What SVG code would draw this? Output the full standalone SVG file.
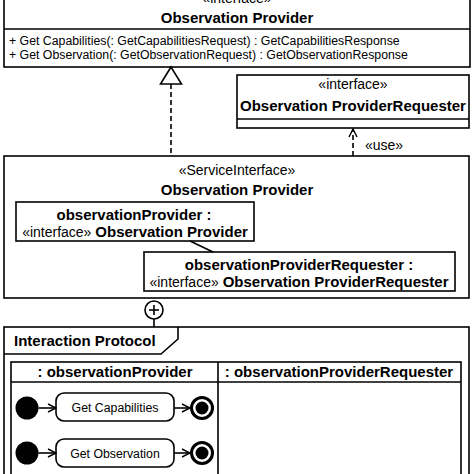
<svg xmlns="http://www.w3.org/2000/svg" width="474" height="474" viewBox="0 0 474 474">
<defs>
<style>
text{font-family:"Liberation Sans",Arial,sans-serif;fill:#000}
.b{font-weight:bold;font-size:15px}
.n{font-size:12.3px}
.s{font-size:14px}
.m{text-anchor:middle}
.box{fill:#fff;stroke:#000;stroke-width:1.6}
.ln{fill:none;stroke:#000;stroke-width:1.6}
.dash{fill:none;stroke:#000;stroke-width:1.6;stroke-dasharray:5,3}
</style>
<marker id="open" markerWidth="10" markerHeight="10" refX="9" refY="5" orient="auto" markerUnits="userSpaceOnUse">
<path d="M1,1 L9,5 L1,9" fill="none" stroke="#000" stroke-width="1.4"/>
</marker>
</defs>
<rect width="474" height="474" fill="#fff"/>

<g id="iface-provider">
<rect class="box" x="4" y="-10" width="466" height="77"/>
<line class="ln" x1="4" y1="29" x2="470" y2="29"/>
<text class="s m" x="237" y="3">«interface»</text>
<text class="b m" x="237" y="23">Observation Provider</text>
<text class="n" x="9" y="45">+ Get Capabilities(: GetCapabilitiesRequest) : GetCapabilitiesResponse</text>
<text class="n" x="9" y="59">+ Get Observation(: GetObservationRequest) : GetObservationResponse</text>
</g>

<g id="iface-requester">
<rect class="box" x="237" y="75" width="232" height="53"/>
<line class="ln" x1="237" y1="119" x2="469" y2="119"/>
<text class="s m" x="353" y="89">«interface»</text>
<text class="b m" x="353" y="111">Observation ProviderRequester</text>
</g>

<g id="service-interface">
<rect class="box" x="4" y="156" width="465" height="142"/>
<text class="s m" x="237" y="175">«ServiceInterface»</text>
<text class="b m" x="237" y="195">Observation Provider</text>
</g>

<g id="part-provider">
<rect class="box" x="16" y="202" width="238" height="39"/>
<text class="b m" x="134" y="220">observationProvider :</text>
<text class="m" x="135" y="237"><tspan class="s">«interface» </tspan><tspan class="b">Observation Provider</tspan></text>
</g>

<g id="part-requester">
<rect class="box" x="144" y="252" width="311" height="39"/>
<text class="b m" x="299" y="270">observationProviderRequester :</text>
<text class="m" x="299" y="287"><tspan class="s">«interface» </tspan><tspan class="b">Observation ProviderRequester</tspan></text>
</g>

<g id="interaction-protocol">
<rect class="box" x="4" y="327" width="465" height="160"/>
<path class="ln" d="M4,354 L161,354 L178,339 L178,327"/>
<text class="b" x="14" y="346">Interaction Protocol</text>
</g>

<g id="partitions">
<rect class="box" x="11" y="362" width="450" height="130"/>
<line class="ln" x1="11" y1="382" x2="461" y2="382"/>
<line class="ln" x1="218" y1="362" x2="218" y2="474"/>
<text class="b m" x="115" y="377">: observationProvider</text>
<text class="b m" x="339" y="377">: observationProviderRequester</text>
</g>

<g id="row1">
<circle cx="27" cy="408" r="11.5" fill="#000"/>
<rect class="box" x="56" y="393" width="118" height="28" rx="8"/>
<text class="n m" x="115" y="412">Get Capabilities</text>
<circle cx="202" cy="408" r="10.5" fill="#fff" stroke="#000" stroke-width="3"/>
<circle cx="202" cy="408" r="6.5" fill="#000"/>
</g>

<g id="row2">
<circle cx="27" cy="453" r="11.5" fill="#000"/>
<rect class="box" x="56" y="439" width="118" height="28" rx="8"/>
<text class="n m" x="115" y="458">Get Observation</text>
<circle cx="202" cy="453" r="10.5" fill="#fff" stroke="#000" stroke-width="3"/>
<circle cx="202" cy="453" r="6.5" fill="#000"/>
</g>

<g id="connectors">
<line class="dash" x1="171" y1="84" x2="171" y2="156"/>
<polygon points="171,67 160.5,84 181.5,84" fill="#fff" stroke="#000" stroke-width="1.6"/>
<line class="dash" x1="353" y1="156" x2="353" y2="129" marker-end="url(#open)"/>
<text class="s" x="365" y="150">«use»</text>
<line class="ln" x1="190" y1="241" x2="213" y2="252"/>
<circle cx="154" cy="310" r="9" fill="#fff" stroke="#000" stroke-width="1.6"/>
<line class="ln" x1="149" y1="310" x2="159" y2="310"/>
<line class="ln" x1="154" y1="305" x2="154" y2="315"/>
<line class="ln" x1="154" y1="319" x2="154" y2="327"/>
<line class="ln" x1="38.5" y1="408" x2="56" y2="408" marker-end="url(#open)"/>
<line class="ln" x1="174" y1="408" x2="190" y2="408" marker-end="url(#open)"/>
<line class="ln" x1="38.5" y1="453" x2="56" y2="453" marker-end="url(#open)"/>
<line class="ln" x1="174" y1="453" x2="190" y2="453" marker-end="url(#open)"/>
</g>
</svg>
